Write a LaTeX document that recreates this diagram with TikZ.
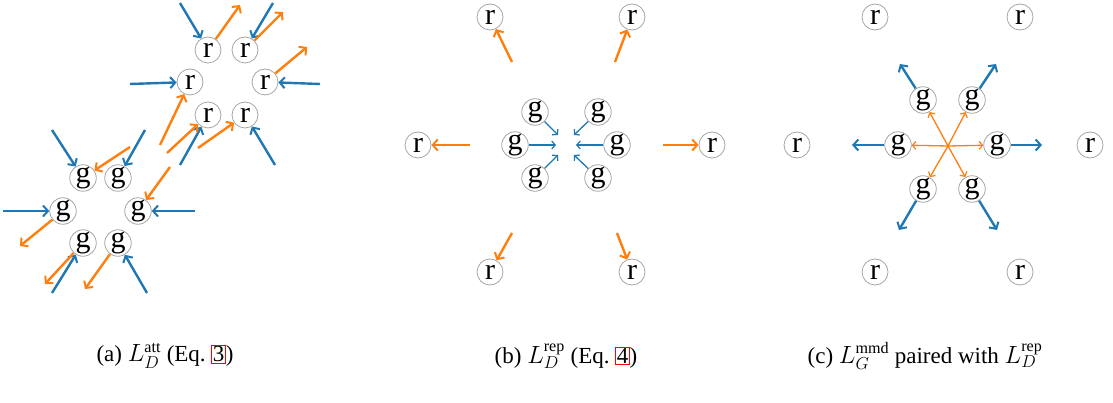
\documentclass[tikz,border=0pt]{standalone}
\usepackage{fontspec}
\setmainfont{Liberation Serif}
\usetikzlibrary{arrows.meta}
\definecolor{mblue}{RGB}{31,119,180}
\definecolor{morange}{RGB}{255,127,14}
\begin{document}
\begin{tikzpicture}[x=1pt,y=-1pt,
  pt/.style={circle,draw=black!35,line width=0.8pt,minimum size=26pt,inner sep=0pt,font=\fontsize{30}{30}\selectfont,fill=white},
  ba/.style={draw=mblue,line width=2.4pt,-{Straight Barb[length=5pt,width=11pt,line width=2pt]}},
  oa/.style={draw=morange,line width=2.4pt,-{Straight Barb[length=5pt,width=11pt,line width=2pt]}},
  bs/.style={draw=mblue,line width=1.3pt,-{Straight Barb[length=3.5pt,width=8pt,line width=1.2pt]}},
  os/.style={draw=morange,line width=1.3pt,-{Straight Barb[length=3.5pt,width=8pt,line width=1.2pt]}},
  captext/.style={font=\fontsize{23}{23}\selectfont,inner sep=0pt}]
\useasboundingbox (0,0) rectangle (1113,403);
% ---------- panel a ----------
\node[pt] (ra1) at (208,50) {r};
\node[pt] (ra2) at (245,50) {r};
\node[pt] (ra3) at (190,82) {r};
\node[pt] (ra4) at (265,82) {r};
\node[pt] (ra5) at (208,115) {r};
\node[pt] (ra6) at (245,115) {r};
\node[pt] (ga1) at (83,178) {g};
\node[pt] (ga2) at (118,178) {g};
\node[pt] (ga3) at (63,211) {g};
\node[pt] (ga4) at (138,211) {g};
\node[pt] (ga5) at (83,243) {g};
\node[pt] (ga6) at (118,243) {g};
\draw[ba] (180,3) -- (ra1);
\draw[ba] (273,3) -- (ra2);
\draw[ba] (130,84) -- (ra3);
\draw[ba] (320,84) -- (ra4);
\draw[ba] (180,165) -- (ra5);
\draw[ba] (275,165) -- (ra6);
\draw[ba] (52,130) -- (ga1);
\draw[ba] (145,130) -- (ga2);
\draw[ba] (3,211) -- (ga3);
\draw[ba] (195,211) -- (ga4);
\draw[ba] (52,293) -- (ga5);
\draw[ba] (147,293) -- (ga6);
\draw[oa] (ra1) -- (240,5);
\draw[oa] (ra2) -- (283,12);
\draw[oa] (ra4) -- (307,47);
\draw[oa] (ga3) -- (20,246);
\draw[oa] (ga5) -- (45,284);
\draw[oa] (ga6) -- (85,289);
\draw[oa] (130,147) -- (ga1);
\draw[oa] (160,145) -- (ra3);
\draw[oa] (167,153) -- (ra5);
\draw[oa] (170,167) -- (ga4);
\draw[oa] (198,148) -- (ra6);
% ---------- panel b ----------
\coordinate (cb) at (566,145);
\node[pt] (gb1) at (535,112) {g};
\node[pt] (gb2) at (598,112) {g};
\node[pt] (gb3) at (515,145) {g};
\node[pt] (gb4) at (617,145) {g};
\node[pt] (gb5) at (535,178) {g};
\node[pt] (gb6) at (598,178) {g};
\node[pt] (rb1) at (490,17) {r};
\node[pt] (rb2) at (632,17) {r};
\node[pt] (rb3) at (418,145) {r};
\node[pt] (rb4) at (712,145) {r};
\node[pt] (rb5) at (490,272) {r};
\node[pt] (rb6) at (632,272) {r};
\draw[oa] (512,62) -- (rb1);
\draw[oa] (615,62) -- (rb2);
\draw[oa] (470,145) -- (rb3);
\draw[oa] (663,145) -- (rb4);
\draw[oa] (512,233) -- (rb5);
\draw[oa] (617,233) -- (rb6);
\draw[bs] (gb1) -- (558,135);
\draw[bs] (gb2) -- (574,135);
\draw[bs] (gb3) -- (556,145);
\draw[bs] (gb4) -- (576,145);
\draw[bs] (gb5) -- (558,155);
\draw[bs] (gb6) -- (574,155);
% ---------- panel c ----------
\coordinate (cc) at (948,146);
\node[pt] (gc1) at (923,100) {g};
\node[pt] (gc2) at (972,100) {g};
\node[pt] (gc3) at (898,145) {g};
\node[pt] (gc4) at (997,145) {g};
\node[pt] (gc5) at (923,189) {g};
\node[pt] (gc6) at (972,189) {g};
\node[pt] (rc1) at (875,17) {r};
\node[pt] (rc2) at (1020,17) {r};
\node[pt] (rc3) at (797,145) {r};
\node[pt] (rc4) at (1090,145) {r};
\node[pt] (rc5) at (875,272) {r};
\node[pt] (rc6) at (1020,272) {r};
\draw[ba] (gc1) -- (900,64);
\draw[ba] (gc2) -- (996,64);
\draw[ba] (gc3) -- (852,145);
\draw[ba] (gc4) -- (1042,145);
\draw[ba] (gc5) -- (899,230);
\draw[ba] (gc6) -- (997,230);
\draw[os] (cc) -- (gc1);
\draw[os] (cc) -- (gc2);
\draw[os] (cc) -- (gc3);
\draw[os] (cc) -- (gc4);
\draw[os] (cc) -- (gc5);
\draw[os] (cc) -- (gc6);
% ---------- captions ----------
\node[captext] (capa) at (165,356) {(a) $L_D^{\mathrm{att}}$ (Eq.~{\setlength\fboxsep{1pt}\color{red}\fbox{\color{black}3}})};
\node[captext] (capb) at (566,356) {(b) $L_D^{\mathrm{rep}}$ (Eq.~{\setlength\fboxsep{1pt}\color{red}\fbox{\color{black}4}})};
\node[captext] (capc) at (925,356) {(c) $L_G^{\mathrm{mmd}}$ paired with $L_D^{\mathrm{rep}}$};
\end{tikzpicture}
\end{document}
